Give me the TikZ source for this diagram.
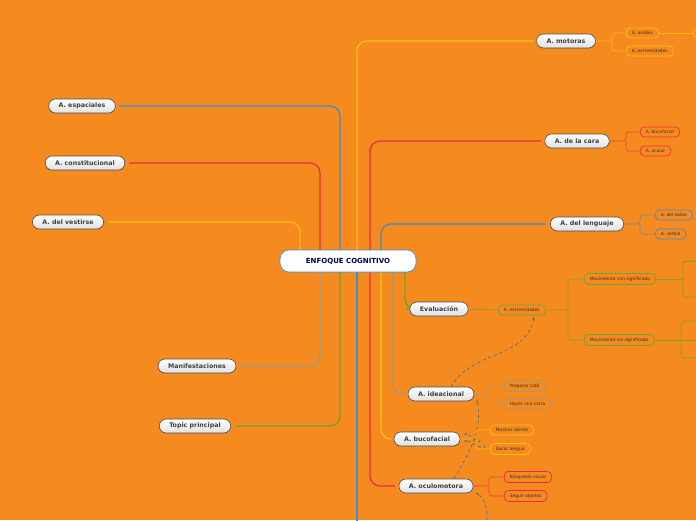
\documentclass[tikz,border=0pt]{standalone}
\usepackage{fontspec}
\setmainfont{DejaVu Sans}
\usetikzlibrary{arrows.meta,positioning,shadows}
\definecolor{bgor}{HTML}{F58A1F}
\definecolor{cyel}{HTML}{FFC20E}
\definecolor{cred}{HTML}{ED2A4B}
\definecolor{cblu}{HTML}{3D8ED0}
\definecolor{cgrn}{HTML}{6AA533}
\definecolor{cgry}{HTML}{9A9A8A}
\begin{document}
\begin{tikzpicture}[x=1pt,y=-1pt,
    font=\bfseries,
    topic/.style={
        rectangle,
        rounded corners=7pt,
        draw=black!70,
        top color=white,
        bottom color=black!12,
        line width=0.6pt,
        font=\fontsize{6.3}{7}\selectfont\bfseries,
        text=black!75,
        minimum height=14pt,
        inner xsep=10pt,
        drop shadow={opacity=0.25,shadow xshift=0.5pt,shadow yshift=-0.8pt}
    },
    leaf/.style={
        rectangle,
        rounded corners=4pt,
        draw=#1,
        fill=bgor,
        line width=0.7pt,
        font=\fontsize{4.4}{5}\selectfont,
        text=black!80,
        minimum height=9pt,
        inner xsep=5.5pt
    },
    branch/.style={line width=1.3pt, rounded corners=10pt, #1},
    twig/.style={line width=0.6pt, rounded corners=3pt, #1!80!bgor},
    link/.style={-{Stealth[length=3pt]}, dashed, line width=0.6pt, cblu!80!black}
]
\useasboundingbox (0,0) rectangle (696,520);
\fill[bgor] (0,0) rectangle (696,520);
\clip (0,0) rectangle (696,520);

% ===== branch lines =====
\draw[branch=cblu] (340,261) -- (340,106) -- (119,106);
\draw[branch=cred] (320,261) -- (320,163) -- (129,163);
\draw[branch=cyel] (300,261) -- (300,222) -- (108,222);
\draw[branch=cgry] (320,261) -- (320,366) -- (240,366);
\draw[branch=cgrn] (340,261) -- (340,426) -- (236,426);
\draw[branch=cblu] (357,261) -- (357,530);
\draw[branch=cyel] (357,261) -- (357,41) -- (533,41);
\draw[branch=cred] (370,261) -- (370,141) -- (541,141);
\draw[branch=cred] (370,261) -- (370,486) -- (395,486);
\draw[branch=cblu] (381,261) -- (381,224) -- (546,224);
\draw[branch=cyel] (381,261) -- (381,439) -- (390,439);
\draw[branch=cgrn] (405,261) -- (405,309) -- (406,309);
\draw[branch=cgry] (393,261) -- (393,394) -- (404,394);

% ===== centre and main topics =====
\node[topic, draw=cblu, top color=white, bottom color=white, font=\fontsize{7}{8}\selectfont\bfseries, text=blue!30!black, minimum height=22pt, minimum width=136pt, rounded corners=9pt] (root) at (348,261) {ENFOQUE COGNITIVO};

\node[topic] (espa) at (82,106) {A. espaciales};
\node[topic] (cons) at (85,163) {A. constitucional};
\node[topic] (vest) at (68,222) {A. del vestirse};
\node[topic] (mani) at (197,366) {Manifestaciones};
\node[topic] (topi) at (195,426) {Topic principal};

\node[topic] (moto) at (566,41) {A. motoras};
\node[topic] (cara) at (577,141) {A. de la cara};
\node[topic] (leng) at (587,224) {A. del lenguaje};
\node[topic] (eval) at (439,309) {Evaluación};
\node[topic] (idea) at (441,394) {A. ideacional};
\node[topic] (buco) at (427,439) {A. bucofacial};
\node[topic] (ocul) at (436,486) {A. oculomotora};

% ===== leaves =====
\node[leaf=cyel, anchor=west] (axia) at (626,33) {A. axiales};
\node[leaf=cyel, anchor=west] (extr) at (626,51) {A. extremidades};
\node[leaf=cyel, anchor=west] (axic) at (693,33) {\phantom{A. x}};
\node[leaf=cred, anchor=west] (cbuc) at (640,132) {A. bucofacial};
\node[leaf=cred, anchor=west] (cocu) at (640,151) {A. ocular};
\node[leaf=cblu, anchor=west] (habl) at (655,215) {A. del habla};
\node[leaf=cblu, anchor=west] (verb) at (655,234) {A. verbal};
\node[leaf=cgrn, anchor=west] (eext) at (498,310) {A. extremidades};
\node[leaf=cgrn, anchor=west] (mcon) at (584,279) {Movimiento con significado};
\node[leaf=cgrn, anchor=west] (msin) at (584,340) {Movimiento sin significado};
\node[leaf=cgry, anchor=west] (cafe) at (504,386) {Preparar café};
\node[leaf=cgry, anchor=west] (cart) at (504,404) {Hacer una carta};
\node[leaf=cyel, anchor=west] (dien) at (490,430) {Mostrar diente};
\node[leaf=cyel, anchor=west] (leng2) at (490,449) {Sacar lengua};
\node[leaf=cred, anchor=west] (busq) at (504,477) {Búsqueda visual};
\node[leaf=cred, anchor=west] (segu) at (504,496) {Seguir objetos};

% ===== twigs =====
\draw[twig=cyel] (moto) -- (612,41) |- (axia);
\draw[twig=cyel] (612,41) |- (extr);
\draw[twig=cyel] (axia) -- (axic);
\draw[twig=cred] (cara) -- (626,141) |- (cbuc);
\draw[twig=cred] (626,141) |- (cocu);
\draw[twig=cblu] (leng) -- (640,224) |- (habl);
\draw[twig=cblu] (640,224) |- (verb);
\draw[twig=cgrn] (eval) -- (eext);
\draw[twig=cgrn] (eext) -- (568,310) |- (mcon);
\draw[twig=cgrn] (568,310) |- (msin);
\draw[twig=cgrn] (mcon) -- (683,279);
\draw[twig=cgrn] (683,261) -- (696,261);
\draw[twig=cgrn] (696,261) -| (683,297) -- (696,297);
\draw[twig=cgrn] (msin) -- (696,340);
\draw[twig=cgrn] (696,321) -| (681,358) -- (696,358);
\draw[twig=cgry] (idea) -- (489,394) |- (cafe);
\draw[twig=cgry] (489,394) |- (cart);
\draw[twig=cyel] (buco) -- (476,439) |- (dien);
\draw[twig=cyel] (476,439) |- (leng2);
\draw[twig=cred] (ocul) -- (489,486) |- (busq);
\draw[twig=cred] (489,486) |- (segu);

% ===== dashed links =====
\draw[link] (idea.north) ++(10,0) to[out=60,in=-100] (534,317);
\draw[link] (ocul.north) ++(18,0) to[out=60,in=-80] (477,400);
\draw[link] (480,440) to[out=-90,in=0] (464,434);
\draw[link] (485,445) to[out=-90,in=0] (464,441);
\draw[link] (487,520) to[out=90,in=-30] (476,493);
\end{tikzpicture}
\end{document}
